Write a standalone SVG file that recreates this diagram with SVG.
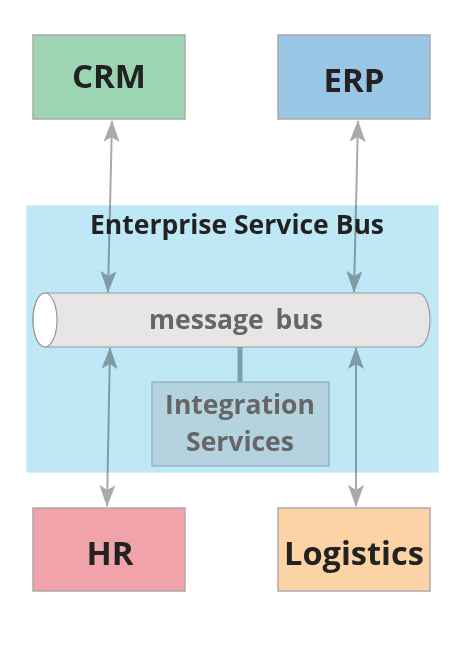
<svg xmlns="http://www.w3.org/2000/svg" width="472" height="660" viewBox="0 0 472 660">
<style>
.box{stroke:#aaaaaa;stroke-width:1.5}
.lbl{font-family:"Open Sans","Liberation Sans",sans-serif;font-weight:bold;text-anchor:middle;fill:#222222}
.glbl{font-family:"Open Sans","Liberation Sans",sans-serif;font-weight:bold;text-anchor:middle;fill:#666666}
.conn{stroke:#aaaaaa;stroke-width:2;fill:none;marker-start:url(#ah);marker-end:url(#ah)}
</style>
<defs>
<marker id="ah" viewBox="0 0 22 16" refX="21" refY="8" markerWidth="22" markerHeight="16" markerUnits="userSpaceOnUse" orient="auto-start-reverse">
<path d="M0,0 L22,8 L0,16 L5,8 Z" fill="#aaaaaa"/>
</marker>
</defs>
<rect width="472" height="660" fill="#ffffff"/>
<g id="connectors">
<line class="conn" x1="112" y1="121" x2="108" y2="292"/>
<line class="conn" x1="358" y1="121" x2="354" y2="292"/>
<line class="conn" x1="110" y1="348" x2="107" y2="506"/>
<line class="conn" x1="356" y1="348" x2="356" y2="506"/>
</g>
<g id="esb">
<rect x="26.5" y="205.5" width="412" height="267" fill="#bfe8f7" stroke="#cfe6ee" stroke-dasharray="1 2" style="mix-blend-mode:multiply"/>
<text class="lbl" x="237" y="234" font-size="26.5">Enterprise Service Bus</text>
</g>
<g id="bus">
<path d="M45,293 L418,293 A12,27 0 0 1 418,347 L45,347 A12,27 0 0 1 45,293 Z" fill="#e6e6e6" stroke="#999999" stroke-width="1.2"/>
<ellipse cx="45" cy="320" rx="12" ry="27" fill="#ffffff" stroke="#999999" stroke-width="1.2"/>
<text class="glbl" x="236" y="329" font-size="26.5" word-spacing="5">message bus</text>
</g>
<g id="stub">
<line x1="240" y1="347" x2="240" y2="382" stroke="#7e9eab" stroke-width="5"/>
</g>
<g id="integration">
<rect x="152" y="382" width="177" height="84" fill="#b5d3df" stroke="#8faab4" stroke-width="1.2"/>
<text class="glbl" x="240" y="414" font-size="26.5">Integration</text>
<text class="glbl" x="240" y="451" font-size="26.5">Services</text>
</g>
<g id="crm">
<rect class="box" x="33" y="35" width="152" height="84" fill="#9dd5b3"/>
<text class="lbl" x="109" y="88" font-size="33">CRM</text>
</g>
<g id="erp">
<rect class="box" x="278" y="35" width="152" height="84" fill="#9ac6e6"/>
<text class="lbl" x="354" y="92" font-size="33">ERP</text>
</g>
<g id="hr">
<rect class="box" x="33" y="508" width="152" height="83" fill="#f2a2a9"/>
<text class="lbl" x="110" y="565" font-size="33">HR</text>
</g>
<g id="logistics">
<rect class="box" x="278" y="508" width="152" height="83" fill="#fbd3a4"/>
<text class="lbl" x="354" y="565" font-size="32.5">Logistics</text>
</g>
</svg>
